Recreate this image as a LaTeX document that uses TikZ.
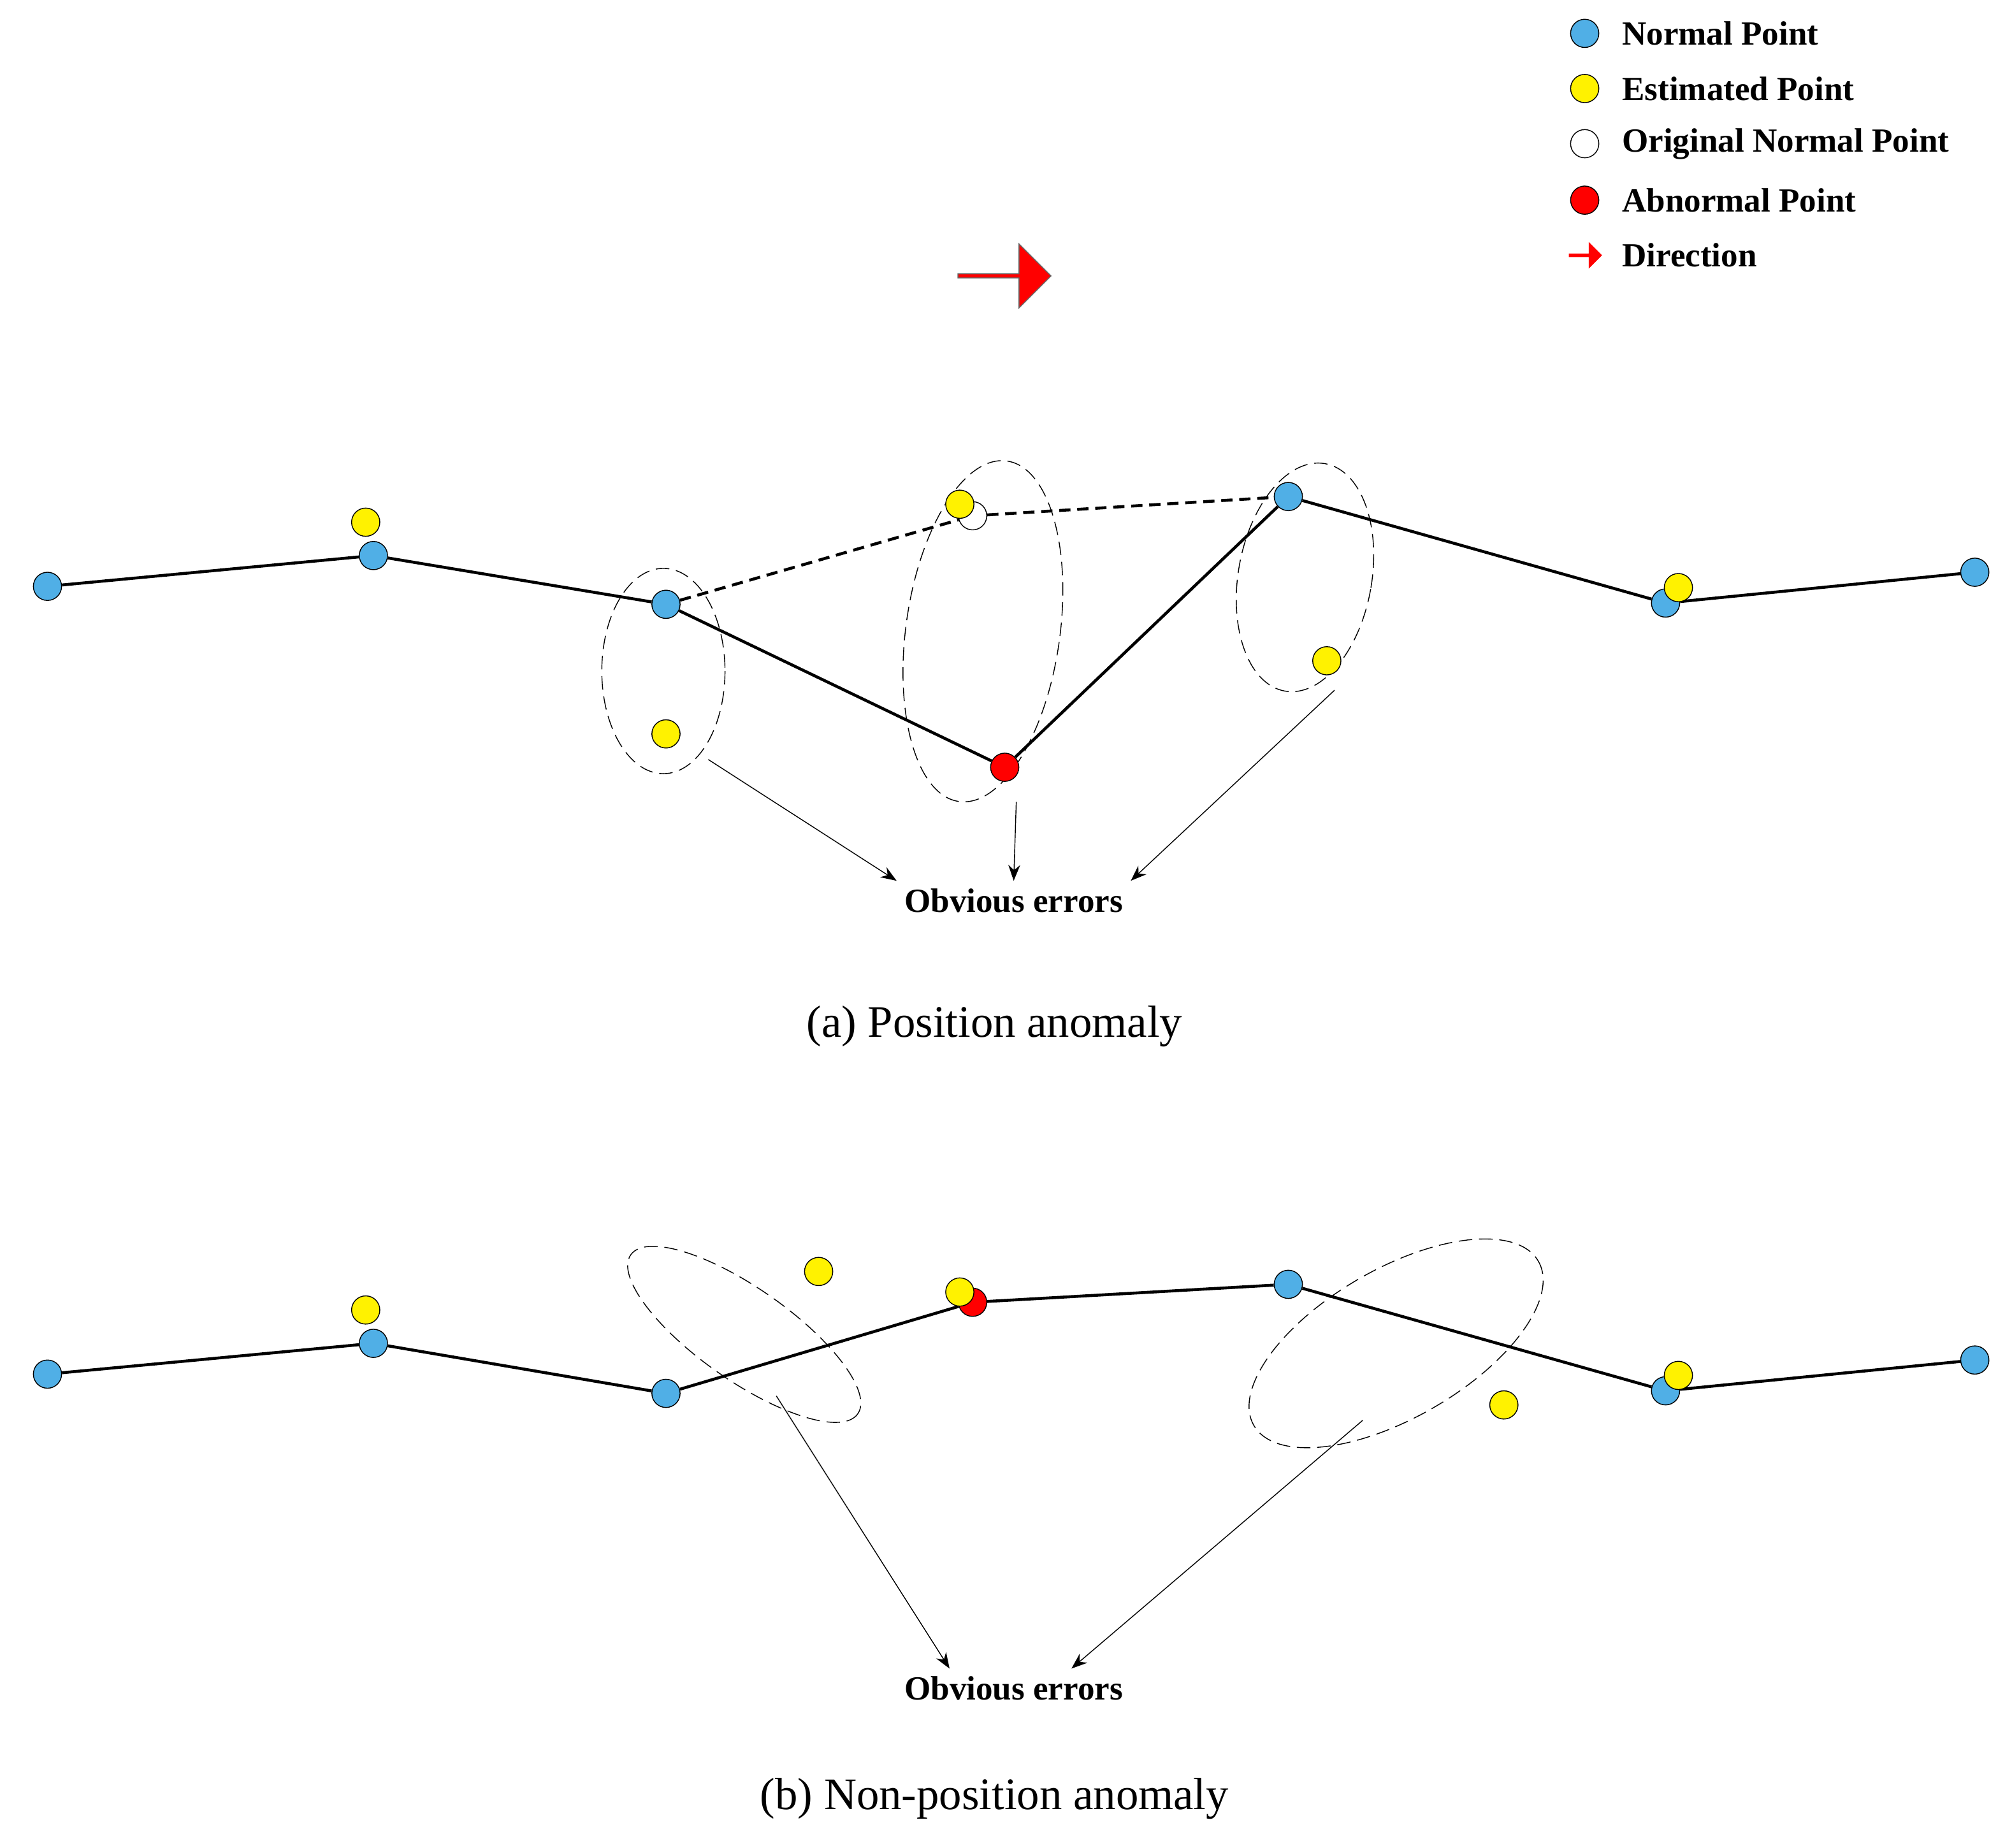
\documentclass[tikz,border=0pt]{standalone}
\usepackage{fontspec}
\setmainfont{Liberation Serif}
\usetikzlibrary{shapes.arrows, arrows.meta, positioning}

\tikzset{
  pt/.style={draw, circle, thin, inner sep=0pt, minimum size=0.44cm},
  normal/.style={pt, fill=cyan!80!blue!70},
  est/.style={pt, fill=yellow},
  orig/.style={pt, fill=white},
  abn/.style={pt, fill=red},
  track/.style={line width=1.3pt},
  zone/.style={draw, dashed, thin, dash pattern=on 6pt off 3pt},
  err/.style={-{Stealth[length=7pt]}, thin},
  lab/.style={font=\bfseries\fontsize{15}{18}\selectfont},
  captext/.style={font=\fontsize{20}{24}\selectfont},
}

\begin{document}
\begin{tikzpicture}[x=0.02cm, y=-0.02cm]
\useasboundingbox (0,0) rectangle (1568,1440);

% legend
\node[normal] at (1235,26) (l1) {};
\node[est] at (1235,69) (l2) {};
\node[orig] at (1235,112) (l3) {};
\node[abn] at (1235,156) (l4) {};
\node[single arrow, draw=red, fill=red, minimum height=0.5cm, minimum width=0.38cm, single arrow head extend=0.06cm, inner sep=0pt] at (1235,199) (l5) {};
\node[lab, anchor=west] at (1258,26) {Normal Point};
\node[lab, anchor=west] at (1258,69) {Estimated Point};
\node[lab, anchor=west] at (1258,112) {Original Normal Point};
\node[lab, anchor=west] at (1258,156) {Abnormal Point};
\node[lab, anchor=west] at (1258,199) {Direction};

% big direction arrow
\node[single arrow, draw=black!60, fill=red, minimum height=1.45cm, minimum width=1.0cm, single arrow head extend=0.1cm, inner sep=0pt] at (782,215) (dir) {};

% (a) position anomaly
\draw[zone] (517,523) ellipse [x radius=48, y radius=80];
\draw[zone, rotate around={-8:(766,492)}] (766,492) ellipse [x radius=60, y radius=134];
\draw[zone, rotate around={-10:(1017,450)}] (1017,450) ellipse [x radius=52, y radius=90];

\node[orig] at (758,402) (a4o) {};
\node[normal] at (37,457) (a1) {};
\node[normal] at (291,433) (a2) {};
\node[normal] at (519,471) (a3) {};
\node[abn] at (783,598) (a4) {};
\node[normal] at (1004,387) (a5) {};
\node[normal] at (1298,470) (a6) {};
\node[normal] at (1539,446) (a7) {};

\draw[track] (a1) -- (a2) -- (a3) -- (a4) -- (a5) -- (a6) -- (a7);
\draw[track, dashed, dash pattern=on 5pt off 3pt] (a3) -- (a4o) -- (a5);

\node[est] at (285,407) (a2e) {};
\node[est] at (519,572) (a3e) {};
\node[est] at (748,393) (a4e) {};
\node[est] at (1034,515) (a5e) {};
\node[est] at (1308,458) (a6e) {};

\node[lab] at (790,702) (erra) {Obvious errors};
\coordinate (ea1) at (552,592);
\coordinate (ea2) at (792,625);
\coordinate (ea3) at (1040,538);
\draw[err] (ea1) -- (erra.north west);
\draw[err] (ea2) -- (erra.north);
\draw[err] (ea3) -- (erra.north east);

\node[captext] at (775,800) {(a) Position anomaly};

% (b) non-position anomaly
\draw[zone, rotate around={-35:(580,1040)}] (580,1040) ellipse [x radius=108, y radius=36];
\draw[zone, rotate around={30:(1088,1047)}] (1088,1047) ellipse [x radius=128, y radius=58];

\node[normal] at (37,1071) (b1) {};
\node[normal] at (291,1047) (b2) {};
\node[normal] at (519,1086) (b3) {};
\node[abn] at (758,1015) (b4) {};
\node[normal] at (1004,1001) (b5) {};
\node[normal] at (1298,1084) (b6) {};
\node[normal] at (1539,1060) (b7) {};

\draw[track] (b1) -- (b2) -- (b3) -- (b4) -- (b5) -- (b6) -- (b7);

\node[est] at (285,1021) (b2e) {};
\node[est] at (638,991) (b3e) {};
\node[est] at (748,1007) (b4e) {};
\node[est] at (1172,1095) (b5e) {};
\node[est] at (1308,1072) (b6e) {};

\node[lab] at (790,1316) (errb) {Obvious errors};
\coordinate (eb1) at (605,1088);
\coordinate (eb2) at (1062,1107);
\draw[err] (eb1) -- ([xshift=-1.0cm]errb.north);
\draw[err] (eb2) -- ([xshift=0.9cm]errb.north);

\node[captext] at (775,1402) {(b) Non-position anomaly};

\end{tikzpicture}
\end{document}
